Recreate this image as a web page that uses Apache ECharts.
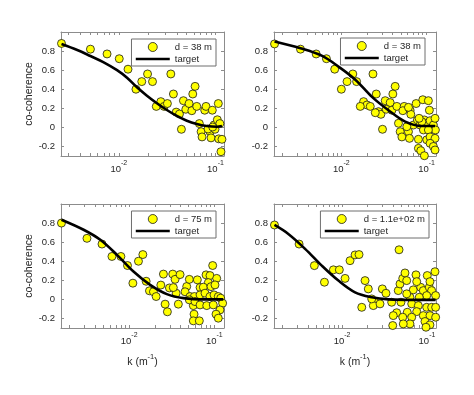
<!DOCTYPE html>
<html><head><meta charset="utf-8">
<script src="https://cdn.jsdelivr.net/npm/echarts@6/dist/echarts.min.js"></script>
<style>html,body{margin:0;padding:0;background:#fff}#c{width:474px;height:395px}</style>
</head><body><div id="c"></div>
<script>
// ---------- data ----------
const xTickValues = [0.01, 0.1];
const yTickValues = [-0.2, 0, 0.2, 0.4, 0.6, 0.8];
const yLabel = 'co-coherence';
const targetName = 'target';

// top-left panel
const tlName = 'd = 38 m';
const tlK = [0.00255,0.00508,0.00755,0.0101,0.01244,0.01503,0.01726,0.01982,0.0223,0.0244,0.0272,0.0294,0.0318,0.0345,0.0367,0.0392,0.0424,0.0444,0.0466,0.0493,0.0533,0.0569,0.0582,0.0615,0.0640,0.0681,0.0710,0.0726,0.0774,0.0798,0.0877,0.0899,0.0927,0.0966,0.0989,0.1045,0.107,0.111,0.108,0.1167,0.114,0.0838,0.0935];
const tlC = [0.88,0.82,0.77,0.72,0.61,0.40,0.48,0.56,0.48,0.22,0.27,0.22,0.25,0.56,0.35,0.16,0.14,-0.02,0.28,0.19,0.25,0.175,0.35,0.43,0.22,0.04,-0.045,-0.10,0.18,0.22,-0.045,-0.11,0.18,0.025,-0.02,0.08,0.25,0.04,-0.12,-0.125,-0.255,-0.017,0.004];
const tlTK = [0.00255,0.00371,0.00508,0.00697,0.00958,0.01215,0.0154,0.01953,0.02477,0.0314,0.0398,0.0505,0.064,0.0811,0.1028,0.1167];
const tlTC = [0.874,0.811,0.748,0.682,0.60,0.521,0.42,0.332,0.253,0.182,0.12,0.07,0.036,0.015,0.007,0.015];

// top-right panel
const trName = 'd = 38 m';
const trK = [0.001644,0.003315,0.00506,0.00668,0.00835,0.0100,0.01166,0.01363,0.0151,0.0235,0.01824,0.01998,0.01668,0.02184,0.02567,0.0327,0.0374,0.0273,0.0291,0.0336,0.0392,0.0428,0.0402,0.0448,0.0546,0.0527,0.0641,0.0754,0.0903,0.105,0.1079,0.0304,0.0468,0.0490,0.0513,0.0613,0.0630,0.0701,0.0780,0.0839,0.0942,0.1005,0.1099,0.1202,0.127,0.0918,0.105,0.0802,0.1005,0.1099,0.1257,0.0802,0.1099,0.1202,0.1257,0.0855,0.0942,0.1257,0.0586,0.0653,0.0613,0.025,0.0879,0.0817];
const trC = [0.875,0.82,0.77,0.72,0.61,0.40,0.48,0.56,0.48,0.56,0.27,0.235,0.22,0.22,0.35,0.28,0.26,0.165,0.137,0.19,0.18,0.43,0.35,0.22,0.22,0.175,0.18,0.25,0.29,0.28,0.18,-0.02,0.043,-0.045,-0.10,-0.045,-0.115,0.025,0.078,0.025,0.078,0.043,0.07,0.025,-0.027,-0.027,-0.027,-0.125,-0.13,-0.10,-0.115,-0.22,-0.167,-0.20,-0.237,-0.244,-0.297,0.095,0.007,0.137,0.21,0.154,0.06,0.095];
const trTK = [0.001644,0.003315,0.00595,0.0093,0.01458,0.02286,0.0357,0.0561,0.0879,0.1257];
const trTC = [0.90,0.83,0.75,0.636,0.50,0.32,0.18,0.06,0.015,0.015];

// bottom-left panel
const blName = 'd = 75 m';
const blK = [0.0016,0.00319,0.00479,0.00627,0.00799,0.00955,0.01447,0.01285,0.01105,0.01582,0.0173,0.01927,0.02073,0.02353,0.02525,0.02643,0.0281,0.0297,0.0325,0.0346,0.0396,0.0356,0.0378,0.0474,0.0509,0.0567,0.0578,0.0567,0.0667,0.0632,0.068,0.08,0.0957,0.089,0.1067,0.0851,0.033,0.0743,0.0915,0.1019,0.0453,0.0519,0.0583,0.068,0.0778,0.089,0.0992,0.1114,0.1189,0.0509,0.0594,0.068,0.0815,0.0973,0.1253,0.1166,0.1047,0.1114];
const blC = [0.80,0.64,0.58,0.45,0.45,0.355,0.47,0.40,0.17,0.19,0.09,0.08,0.03,0.15,0.265,-0.05,-0.13,0.12,0.265,0.21,0.26,0.065,-0.05,0.135,0.21,-0.065,-0.155,-0.225,-0.225,0.205,0.125,0.257,0.355,0.25,0.22,0.176,0.124,0.128,0.134,0.152,0.08,0.03,0.03,0.047,0.065,0.03,0.047,0.03,0.013,-0.005,-0.023,-0.058,-0.065,-0.058,-0.04,-0.11,-0.155,-0.197];
const blTK = [0.0016,0.00291,0.00457,0.00718,0.01123,0.01763,0.02767,0.0434,0.08,0.1275];
const blTC = [0.835,0.73,0.625,0.467,0.292,0.152,0.055,0.013,0.0,0.0];

// bottom-right panel
const brName = 'd = 1.1e+02 m';
const brK = [0.0016,0.00312,0.00472,0.0062,0.00791,0.00929,0.01085,0.01242,0.01422,0.01585,0.01865,0.02037,0.01706,0.0469,0.0298,0.0329,0.02445,0.02334,0.028,0.02235,0.0384,0.0494,0.0459,0.0481,0.0518,0.0551,0.0742,0.1008,0.069,0.0843,0.0905,0.1064,0.1135,0.0992,0.0811,0.0631,0.0577,0.1265,0.0661,0.0791,0.0992,0.1135,0.1265,0.044,0.0586,0.0757,0.0401,0.0518,0.0661,0.0905,0.1084,0.1265,0.0395,0.0631,0.0947,0.1084,0.0973,0.0757,0.1084,0.1242,0.0526,0.0577];
const brC = [0.78,0.58,0.354,0.18,0.31,0.31,0.22,0.406,0.466,0.47,0.197,0.11,-0.083,0.52,0.11,0.064,-0.03,-0.065,-0.047,0.005,-0.03,-0.03,0.092,0.162,0.22,0.277,0.257,0.25,0.10,0.127,0.092,0.127,0.092,0.04,0.022,0.022,0.058,0.04,-0.047,-0.065,-0.083,-0.083,-0.083,-0.14,-0.135,-0.128,-0.17,-0.187,-0.187,-0.17,-0.17,-0.187,-0.274,-0.257,-0.232,-0.267,-0.292,0.186,0.186,0.29,-0.257,0.197];
const brTK = [0.0016,0.00233,0.00367,0.00577,0.00905,0.01422,0.02235,0.0351,0.07,0.1265];
const brTC = [0.78,0.686,0.53,0.354,0.197,0.074,0.022,0.0,-0.005,-0.005];

// ---------- chart ----------
const FONT = '"Liberation Sans", Arial, Helvetica, sans-serif';
const TXT = '#262626';
const AX = '#8c8c8c';
const YEL = '#ffff00';
const EDGE = '#1a1a1a';

function zip(a, b) { const n = Math.min(a.length, b.length); const o = []; for (let i = 0; i < n; i++) o.push([a[i], b[i]]); return o; }
function logTicks(min, max) { const o = []; for (let e = -4; e <= 1; e++) for (let m = 1; m <= 9; m++) { const v = +(m * Math.pow(10, e)).toPrecision(6); if (v >= min && v <= max) o.push(v); } return o; }

const panels = [
  { name: tlName, k: tlK, c: tlC, tk: tlTK, tc: tlTC, xmin: 0.00252, xmax: 0.1225, grid: { left: 61, top: 32, width: 163, height: 124 }, leg: { right: 258, top: 39 }, yName: true, xName: false },
  { name: trName, k: trK, c: trC, tk: trTK, tc: trTC, xmin: 0.00162, xmax: 0.129, grid: { left: 274, top: 32, width: 162, height: 124 }, leg: { right: 49, top: 38 }, yName: false, xName: false },
  { name: blName, k: blK, c: blC, tk: blTK, tc: blTC, xmin: 0.00158, xmax: 0.130, grid: { left: 61, top: 204, width: 163, height: 124 }, leg: { right: 258, top: 211 }, yName: true, xName: true },
  { name: brName, k: brK, c: brC, tk: brTK, tc: brTC, xmin: 0.00158, xmax: 0.1277, grid: { left: 274, top: 204, width: 162, height: 124 }, leg: { right: 45, top: 211 }, yName: false, xName: true }
];

const xRich = {
  b: { fontSize: 9.5, fontFamily: FONT, color: TXT, lineHeight: 14, verticalAlign: 'bottom' },
  s: { fontSize: 7, fontFamily: FONT, color: TXT, lineHeight: 9, verticalAlign: 'top' }
};

const grids = [], xAxes = [], yAxes = [], series = [], legends = [];
panels.forEach((p, i) => {
  grids.push(Object.assign({ containLabel: false }, p.grid));
  const minor = logTicks(p.xmin, p.xmax);
  const common = { type: 'log', logBase: 10, gridIndex: i, min: p.xmin, max: p.xmax, splitLine: { show: false }, minorTick: { show: false },
    axisLine: { show: true, onZero: false, lineStyle: { color: AX, width: 1 } },
    axisTick: { show: true, inside: true, length: 3, customValues: minor, lineStyle: { color: AX, width: 1 } } };
  const xb = Object.assign({}, common, {
    position: 'bottom',
    axisLabel: { show: true, customValues: xTickValues, margin: 4, color: TXT, rich: xRich,
      formatter: v => { const e = Math.round(Math.log10(v)); return '{b|10}{s|' + (e < 0 ? '-' : '') + Math.abs(e) + '}'; } }
  });
  if (p.xName) {
    Object.assign(xb, { name: '{n|k (m}{s|-1}{n|)}', nameLocation: 'middle', nameGap: 25,
      nameTextStyle: { rich: { n: { fontSize: 10.5, fontFamily: FONT, color: TXT, lineHeight: 15, verticalAlign: 'bottom' }, s: { fontSize: 7.5, fontFamily: FONT, color: TXT, lineHeight: 9, verticalAlign: 'top' } } } });
  }
  xAxes.push(xb);
  xAxes.push(Object.assign({}, common, { position: 'top', axisLabel: { show: false } }));

  const ycommon = { type: 'value', gridIndex: i, min: -0.3, max: 1, splitLine: { show: false },
    axisLine: { show: true, onZero: false, lineStyle: { color: AX, width: 1 } },
    axisTick: { show: true, inside: true, length: 3, customValues: yTickValues, lineStyle: { color: AX, width: 1 } } };
  const yl = Object.assign({}, ycommon, { position: 'left',
    axisLabel: { show: true, customValues: yTickValues, margin: 6, fontSize: 9.5, fontFamily: FONT, color: TXT } });
  if (p.yName) {
    Object.assign(yl, { name: yLabel, nameLocation: 'middle', nameGap: 19,
      nameTextStyle: { fontSize: 10.5, fontFamily: FONT, color: TXT } });
  }
  yAxes.push(yl);
  yAxes.push(Object.assign({}, ycommon, { position: 'right', axisLabel: { show: false } }));

  series.push({ type: 'scatter', name: p.name, xAxisIndex: 2 * i, yAxisIndex: 2 * i, data: zip(p.k, p.c),
    symbol: 'circle', symbolSize: 8, clip: false, z: 2,
    itemStyle: { color: YEL, borderColor: EDGE, borderWidth: 0.8, opacity: 1 } });
  series.push({ type: 'line', name: targetName, xAxisIndex: 2 * i, yAxisIndex: 2 * i, data: zip(p.tk, p.tc),
    smooth: 0.35, symbol: 'none', showSymbol: false, clip: false, z: 3,
    lineStyle: { color: '#000', width: 2.6 }, itemStyle: { color: '#000' } });

  legends.push({ orient: 'vertical', right: p.leg.right, top: p.leg.top,
    data: [
      { name: p.name, icon: 'circle', itemStyle: { color: YEL, borderColor: EDGE, borderWidth: 0.8 } },
      { name: targetName, itemStyle: { opacity: 0, color: 'rgba(0,0,0,0)', borderWidth: 0 }, lineStyle: { color: '#000', width: 2.6 } }
    ],
    selectedMode: false, itemWidth: 34, itemHeight: 9, itemGap: 2, itemTextGap: 3, symbolKeepAspect: true,
    padding: [3, 4, 2, 3], borderColor: '#6e6e6e', borderWidth: 1, backgroundColor: '#fff',
    textStyle: { fontSize: 9.5, fontFamily: FONT, color: TXT } });
});

const chart = echarts.init(document.getElementById('c'), null, { renderer: 'canvas', width: 474, height: 395 });
chart.setOption({ animation: false, backgroundColor: '#fff', grid: grids, xAxis: xAxes, yAxis: yAxes, series: series, legend: legends });
</script></body></html>
